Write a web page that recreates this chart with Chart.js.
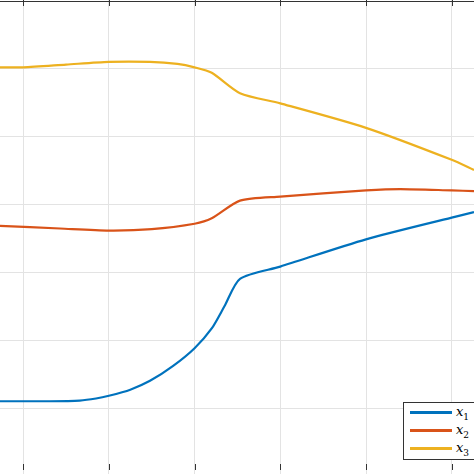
<!DOCTYPE html>
<html>
<head>
<meta charset="utf-8">
<script src="https://cdn.jsdelivr.net/npm/chart.js@4"></script>
<style>
    html, body { margin: 0; padding: 0; background: #fff; overflow: hidden; }
    #wrap { position: relative; width: 474px; height: 474px; }
    #legend {
        position: absolute; left: 403px; top: 402px; width: 72px; height: 58px;
        border: 1px solid #333; background: #fff; box-sizing: border-box;
        font-family: 'DejaVu Serif', serif; font-style: italic; font-size: 13px;
    }
    #legend div { height: 18px; line-height: 18px; padding-left: 6px; white-space: nowrap; }
    #legend span.sw { display: inline-block; width: 42px; height: 3px; margin-right: 4px; vertical-align: middle; }
    #legend span.sb { font-style: normal; font-size: 9px; position: relative; top: 4px; }
</style>
</head>
<body>
<div id="wrap">
    <canvas id="chart" width="474" height="474"></canvas>
    <div id="legend">
        <div><span class="sw" style="background:#0072BD"></span>x<span class="sb">1</span></div>
        <div><span class="sw" style="background:#D95319"></span>x<span class="sb">2</span></div>
        <div><span class="sw" style="background:#EDB120"></span>x<span class="sb">3</span></div>
    </div>
</div>
<script>
/* --- Data --- */
const x1X = [-0.27, 0.31, 0.66, 0.85, 1.0, 1.25, 1.48, 1.75, 2.0, 2.2, 2.35, 2.53, 3.0, 4.0, 5.0, 5.26];
const x1Y = [0.10, 0.10, 0.11, 0.14, 0.18, 0.27, 0.40, 0.62, 0.88, 1.17, 1.50, 1.90, 2.08, 2.48, 2.80, 2.88];

const x2X = [-0.27, 0.43, 1.0, 1.5, 2.0, 2.2, 2.53, 3.0, 4.0, 4.4, 5.0, 5.26];
const x2Y = [2.68, 2.64, 2.61, 2.63, 2.71, 2.79, 3.05, 3.11, 3.20, 3.22, 3.20, 3.19];

const x3X = [-0.27, 0.0, 0.5, 1.0, 1.48, 1.8, 2.0, 2.2, 2.53, 3.0, 4.0, 5.0, 5.26];
const x3Y = [5.01, 5.01, 5.05, 5.09, 5.09, 5.06, 5.01, 4.93, 4.63, 4.48, 4.12, 3.65, 3.50];

const gridX = [0, 1, 2, 3, 4, 5];
const gridY = [0, 1, 2, 3, 4, 5];

function pts(xs, ys) {
    return xs.map((x, i) => ({ x: x, y: ys[i] }));
}

function series(label, xs, ys, color) {
    return {
        label: label,
        data: pts(xs, ys),
        borderColor: color,
        backgroundColor: color,
        borderWidth: 2.2,
        pointRadius: 0,
        tension: 0.25
    };
}

// short dark tick marks on top and bottom edges, like the MATLAB box
const edgeTicks = {
    id: 'edgeTicks',
    afterDraw(chart) {
        const ctx = chart.ctx;
        const xs = chart.scales.x;
        const area = chart.chartArea;
        ctx.save();
        ctx.strokeStyle = '#333';
        ctx.lineWidth = 1;
        ctx.beginPath();
        ctx.moveTo(area.left, area.top + 1.5);
        ctx.lineTo(area.right, area.top + 1.5);
        ctx.stroke();
        gridX.forEach(v => {
            const px = Math.round(xs.getPixelForValue(v)) + 0.5;
            ctx.beginPath();
            ctx.moveTo(px, area.top);
            ctx.lineTo(px, area.top + 6);
            ctx.moveTo(px, area.bottom - 4);
            ctx.lineTo(px, area.bottom - 10);
            ctx.stroke();
        });
        ctx.restore();
    }
};

new Chart(document.getElementById('chart').getContext('2d'), {
    type: 'line',
    data: {
        datasets: [
            series('x1', x1X, x1Y, '#0072BD'),
            series('x2', x2X, x2Y, '#D95319'),
            series('x3', x3X, x3Y, '#EDB120')
        ]
    },
    options: {
        responsive: false,
        animation: false,
        layout: { padding: 0 },
        plugins: { legend: { display: false }, tooltip: { enabled: false } },
        scales: {
            x: {
                type: 'linear',
                min: -0.27,
                max: 5.26,
                afterBuildTicks: s => { s.ticks = gridX.map(v => ({ value: v })); },
                ticks: { display: false },
                grid: { color: '#e3e3e3', drawTicks: false },
                border: { display: false }
            },
            y: {
                type: 'linear',
                min: -0.97,
                max: 6.0,
                afterBuildTicks: s => { s.ticks = gridY.map(v => ({ value: v })); },
                ticks: { display: false },
                grid: { color: '#e3e3e3', drawTicks: false },
                border: { display: false }
            }
        }
    },
    plugins: [edgeTicks]
});
</script>
</body>
</html>
